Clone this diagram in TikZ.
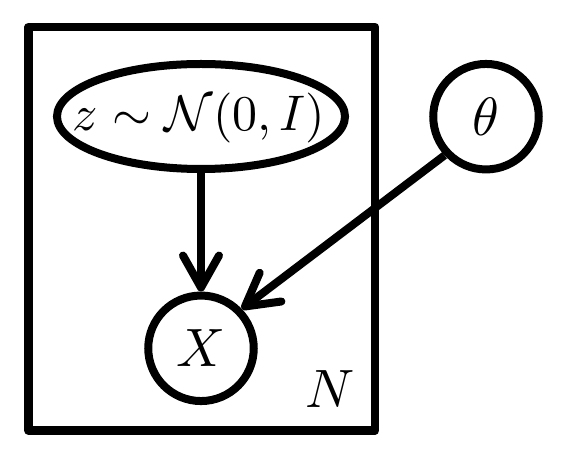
\documentclass[tikz,border=0pt]{standalone}
\usepackage{graphicx}
\usetikzlibrary{shapes.geometric,arrows.meta}
\newcommand{\mylbl}[2][5.4]{\scalebox{#1}{$#2$}}
\begin{document}
\begin{tikzpicture}[x=1pt,y=-1pt,
  plate/.style={draw, line width=8.5pt, line join=round, minimum width=346.5pt, minimum height=403.5pt, inner sep=0pt},
  latent/.style={draw, ellipse, line width=8pt, minimum width=288pt, minimum height=105pt, inner sep=0pt},
  var/.style={draw, circle, line width=8pt, minimum size=105.5pt, inner sep=0pt},
  conn/.style={line width=8pt, -{Straight Barb[length=32pt,width=36pt,round]}}]
\useasboundingbox (0,0) rectangle (566,470);
\node[plate] (plate) at (201.75,228.75) {};
\node[latent] (z) at (201,116.5) {};
\node (ztext) at (199,118) {\mylbl[5.0]{z\sim\mathcal{N}(0,I)}};
\node[var] (theta) at (486,116.7) {\mylbl{\theta}};
\node[var] (X) at (201,348.3) {\mylbl{X}};
\node[anchor=base, inner sep=0pt] (N) at (330,408) {\mylbl{N}};
\draw[conn] (z.south) -- (X.north);
\draw[conn] (theta.223) -- (X.44);
\end{tikzpicture}
\end{document}
